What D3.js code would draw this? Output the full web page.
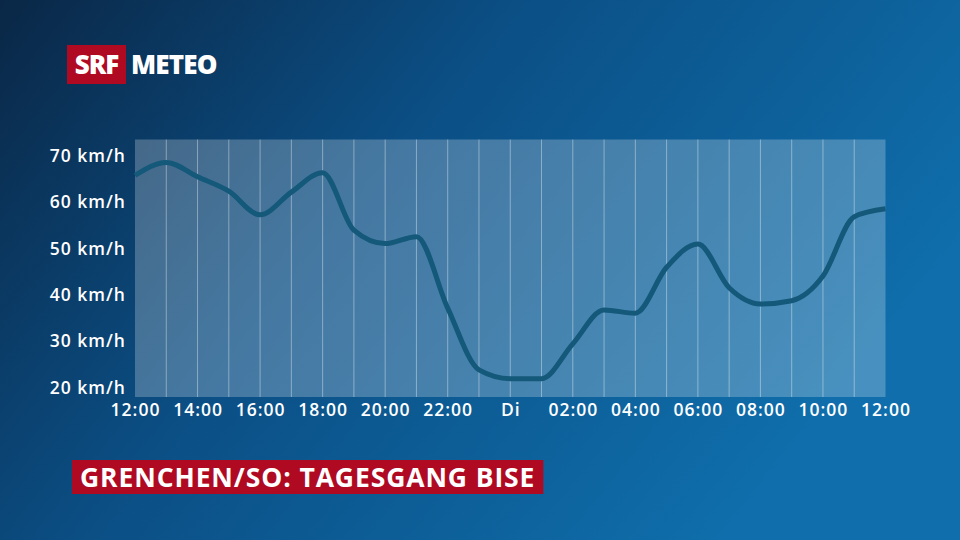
<!DOCTYPE html>
<html>
<head>
<meta charset="utf-8">
<script src="https://cdn.jsdelivr.net/npm/d3@7"></script>
<style>
  html, body { margin: 0; padding: 0; background: #0b3358; }
  svg { display: block; font-family: "Open Sans", "Noto Sans", sans-serif; }
</style>
</head>
<body>
<script>
// hours since 12:00 Monday, and Bise wind speed in km/h
var hours = [0, 1, 2, 3, 4, 5, 6, 7, 8, 9, 10, 11, 12, 13, 14, 15, 16, 17, 18, 19, 20, 21, 22, 23, 24];
var speeds = [65.6, 68.4, 65.3, 62.2, 57.1, 62, 66.2, 53.8, 50.9, 52.4, 37, 23.7, 21.8, 21.8, 29.3, 36.6, 35.9, 45.8, 50.8, 41.4, 37.9, 38.6, 43.9, 56.7, 58.4];
var xTickHours = [0, 2, 4, 6, 8, 10, 12, 14, 16, 18, 20, 22, 24];
var xTickLabels = ['12:00', '14:00', '16:00', '18:00', '20:00', '22:00', 'Di', '02:00', '04:00', '06:00', '08:00', '10:00', '12:00'];
var yTicks = [20, 30, 40, 50, 60, 70];
var title = 'GRENCHEN/SO: TAGESGANG BISE';

var width = 960, height = 540;
var plot = { left: 135, right: 885.5, top: 139.5, bottom: 397 };

var svg = d3.select('body').append('svg')
    .attr('width', width)
    .attr('height', height);

var defs = svg.append('defs');
var bg = defs.append('linearGradient')
    .attr('id', 'bg')
    .attr('x1', '0%').attr('y1', '0%')
    .attr('x2', '100%').attr('y2', '45%');
bg.append('stop').attr('offset', '0%').attr('stop-color', '#0a2746');
bg.append('stop').attr('offset', '45%').attr('stop-color', '#0b4f85');
bg.append('stop').attr('offset', '100%').attr('stop-color', '#0f6eab');

svg.append('rect')
    .attr('width', width)
    .attr('height', height)
    .attr('fill', 'url(#bg)');

/* logo */
svg.append('rect')
    .attr('x', 67).attr('y', 45)
    .attr('width', 59).attr('height', 39)
    .attr('fill', '#af0a22');
svg.append('text')
    .attr('x', 96.5).attr('y', 74)
    .attr('text-anchor', 'middle')
    .attr('fill', '#fff')
    .attr('font-size', 26)
    .attr('font-weight', 800)
    .attr('letter-spacing', -1)
    .text('SRF');
svg.append('text')
    .attr('x', 131).attr('y', 74)
    .attr('fill', '#fff')
    .attr('font-size', 26)
    .attr('font-weight', 800)
    .attr('letter-spacing', -0.8)
    .text('METEO');

var x = d3.scaleLinear()
    .domain([0, 24])
    .range([plot.left, plot.right]);

var y = d3.scaleLinear()
    .domain([20, 70])
    .range([387, 155]);

/* plot panel */
svg.append('rect')
    .attr('x', plot.left)
    .attr('y', plot.top)
    .attr('width', plot.right - plot.left)
    .attr('height', plot.bottom - plot.top)
    .attr('fill', '#ffffff')
    .attr('fill-opacity', 0.24);

svg.append('g')
    .selectAll('line')
    .data(hours.slice(1, -1))
    .join('line')
    .attr('x1', function (d) { return x(d); })
    .attr('x2', function (d) { return x(d); })
    .attr('y1', plot.top)
    .attr('y2', plot.bottom)
    .attr('stroke', '#ffffff')
    .attr('stroke-opacity', 0.38)
    .attr('stroke-width', 1);

/* axes */
var yAxis = svg.append('g')
    .attr('transform', 'translate(126,0)')
    .call(d3.axisLeft(y)
        .tickValues(yTicks)
        .tickSize(0)
        .tickPadding(0)
        .tickFormat(function (d) { return d + ' km/h'; }));

var xAxis = svg.append('g')
    .attr('transform', 'translate(0,' + plot.bottom + ')')
    .call(d3.axisBottom(x)
        .tickValues(xTickHours)
        .tickSize(0)
        .tickPadding(7)
        .tickFormat(function (d, i) { return xTickLabels[i]; }));

[yAxis, xAxis].forEach(function (ax) {
    ax.select('.domain').remove();
    ax.selectAll('text')
        .attr('fill', '#ffffff')
        .attr('font-size', 17.5)
        .attr('font-weight', 600)
        .attr('letter-spacing', 1)
        .attr('font-family', '"Open Sans", "Noto Sans", sans-serif');
});
yAxis.selectAll('text').attr('dy', '0.36em');

/* line */
var line = d3.line()
    .x(function (d, i) { return x(hours[i]); })
    .y(function (d) { return y(d); })
    .curve(d3.curveMonotoneX);

svg.append('path')
    .datum(speeds)
    .attr('d', line)
    .attr('fill', 'none')
    .attr('stroke', '#14587a')
    .attr('stroke-width', 5)
    .attr('stroke-linejoin', 'round');

/* title */
var titleText = svg.append('text')
    .attr('x', 80).attr('y', 487)
    .attr('fill', '#fff')
    .attr('font-size', 26.5)
    .attr('font-weight', 700)
    .attr('letter-spacing', 0.9)
    .text(title);
var bb = titleText.node().getBBox();
svg.insert('rect', function () { return titleText.node(); })
    .attr('x', 72).attr('y', 460)
    .attr('width', bb.width + 16).attr('height', 34)
    .attr('fill', '#af0a22');
</script>
</body>
</html>
